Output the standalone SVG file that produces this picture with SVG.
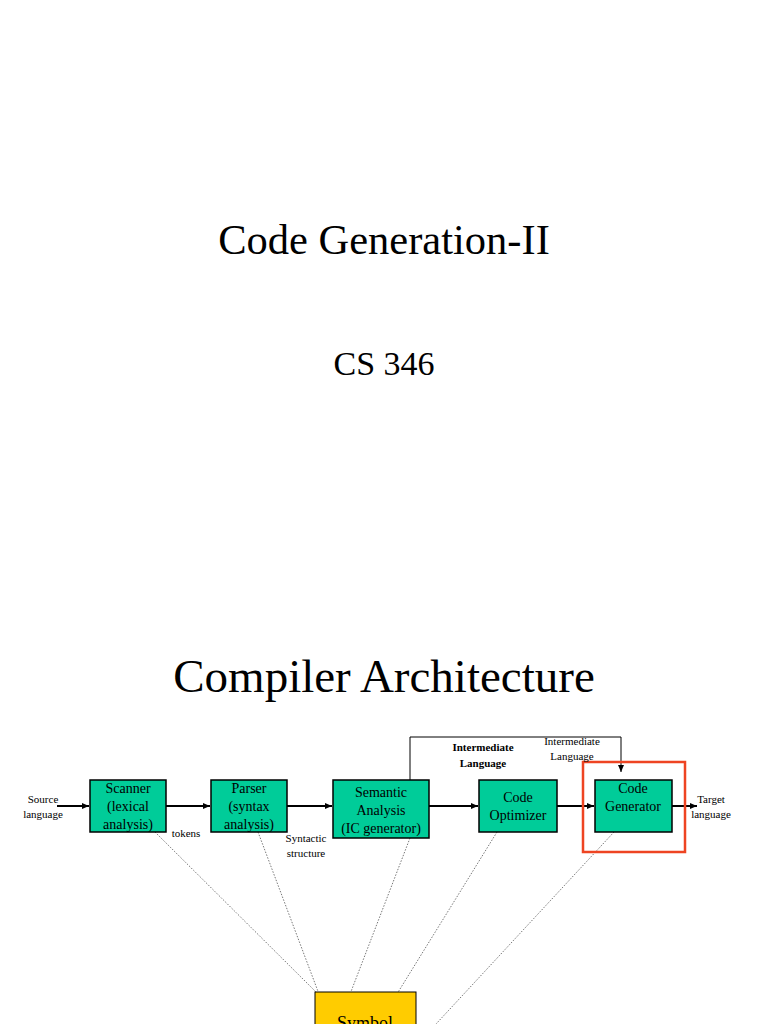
<svg xmlns="http://www.w3.org/2000/svg" width="768" height="1024" viewBox="0 0 768 1024">
<style>
text{font-family:"Liberation Serif",serif;fill:#000}
.box{fill:#00cc99;stroke:#000;stroke-width:1.5}
.bl{font-size:14px;text-anchor:middle}
.sm{font-size:11px;text-anchor:middle}
.arr{stroke:#000;stroke-width:2;fill:none;marker-end:url(#ah)}
.dot{stroke:#555;stroke-width:0.8;stroke-dasharray:1.5 1.5;fill:none}
</style>
<defs><marker id="ah" markerWidth="8" markerHeight="8" refX="7" refY="4" orient="auto" markerUnits="userSpaceOnUse"><path d="M0,1 L7,4 L0,7 z" fill="#000"/></marker></defs>
<rect width="768" height="1024" fill="#fff"/>
<text x="384" y="254" font-size="42.5" text-anchor="middle">Code Generation-II</text>
<text x="384" y="375" font-size="34" text-anchor="middle">CS 346</text>
<text x="384" y="692" font-size="47" text-anchor="middle">Compiler Architecture</text>
<g id="connectors">
<path class="arr" d="M57,806 H89"/>
<path class="arr" d="M166,806 H210"/>
<path class="arr" d="M287,806 H332"/>
<path class="arr" d="M429,806 H478"/>
<path class="arr" d="M557,806 H594"/>
<path class="arr" d="M672,806 H697"/>
<path d="M410,780 V737 H621 V772" stroke="#000" stroke-width="1" fill="none"/>
<path d="M621,772 l-3,-7 h6 z" fill="#000"/>
<path class="dot" d="M155,832 L316,992"/>
<path class="dot" d="M258,832 L322,1002"/>
<path class="dot" d="M410,838 L347,1002"/>
<path class="dot" d="M497,832 L392,1002"/>
<path class="dot" d="M614,832 L436,1024"/>
</g>
<g id="scanner"><rect class="box" x="90" y="780" width="76" height="52"/><text class="bl" x="128" y="793">Scanner</text><text class="bl" x="128" y="811">(lexical</text><text class="bl" x="128" y="829">analysis)</text></g>
<g id="parser"><rect class="box" x="211" y="780" width="76" height="52"/><text class="bl" x="249" y="793">Parser</text><text class="bl" x="249" y="811">(syntax</text><text class="bl" x="249" y="829">analysis)</text></g>
<g id="semantic"><rect class="box" x="333" y="780" width="96" height="58"/><text class="bl" x="381" y="797">Semantic</text><text class="bl" x="381" y="815">Analysis</text><text class="bl" x="381" y="833">(IC generator)</text></g>
<g id="optimizer"><rect class="box" x="479" y="780" width="78" height="52"/><text class="bl" x="518" y="802">Code</text><text class="bl" x="518" y="820">Optimizer</text></g>
<g id="generator"><rect class="box" x="595" y="780" width="77" height="52"/><text class="bl" x="633" y="793">Code</text><text class="bl" x="633" y="811">Generator</text></g>
<rect x="583" y="762" width="102" height="90" fill="none" stroke="#ee4422" stroke-width="2.5"/>
<g id="symbol"><rect x="315" y="992" width="101" height="40" fill="#ffcc00" stroke="#000" stroke-width="1"/><text x="365" y="1029" font-size="18" text-anchor="middle">Symbol</text></g>
<g id="labels">
<text class="sm" x="43" y="803">Source</text><text class="sm" x="43" y="818">language</text>
<text class="sm" x="711" y="803">Target</text><text class="sm" x="711" y="818">language</text>
<text class="sm" x="186" y="837">tokens</text>
<text class="sm" x="306" y="842">Syntactic</text><text class="sm" x="306" y="857">structure</text>
<text class="sm" x="483" y="751" font-weight="bold">Intermediate</text><text class="sm" x="483" y="767" font-weight="bold">Language</text>
<text class="sm" x="572" y="745">Intermediate</text><text class="sm" x="572" y="760">Language</text>
</g>
</svg>
